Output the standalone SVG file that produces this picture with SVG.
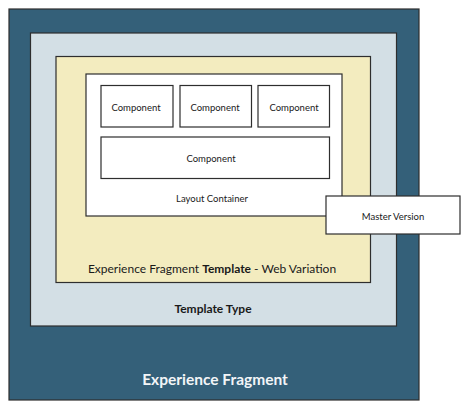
<svg xmlns="http://www.w3.org/2000/svg" width="474" height="413" viewBox="0 0 474 413">
<style>
.box{stroke:#2e2e2e;stroke-width:1.2}
.t{font-family:Lato,"Open Sans","Liberation Sans",sans-serif;fill:#1a1a1a;text-anchor:middle;dominant-baseline:central}
.s{font-size:9.5px}
</style>
<rect width="474" height="413" fill="#ffffff"/>
<g id="experience-fragment">
<rect class="box" x="9" y="9" width="410" height="391" fill="#346079"/>
<text class="t" x="215" y="379" font-size="15.5" font-weight="bold" style="fill:#f2f5f7">Experience Fragment</text>
</g>
<g id="template-type">
<rect class="box" x="30.5" y="33" width="366" height="293" fill="#d3dfe5"/>
<text class="t" x="213" y="308" font-size="12" font-weight="bold">Template Type</text>
</g>
<g id="xf-template">
<rect class="box" x="56" y="56.5" width="314.5" height="226" fill="#f3ecbf"/>
<text class="t" x="212" y="268" font-size="12">Experience Fragment <tspan font-weight="bold">Template</tspan> - Web Variation</text>
</g>
<g id="layout-container">
<rect class="box" x="86" y="74" width="256" height="142" fill="#ffffff"/>
<text class="t s" x="212" y="198">Layout Container</text>
</g>
<g id="component-1">
<rect class="box" x="101" y="85.5" width="72" height="41.5" fill="#ffffff"/>
<text class="t s" x="136" y="107">Component</text>
</g>
<g id="component-2">
<rect class="box" x="180" y="85.5" width="71.5" height="41.5" fill="#ffffff"/>
<text class="t s" x="215" y="107">Component</text>
</g>
<g id="component-3">
<rect class="box" x="258" y="85.5" width="71.5" height="41.5" fill="#ffffff"/>
<text class="t s" x="294" y="107">Component</text>
</g>
<g id="component-4">
<rect class="box" x="101" y="137" width="228.5" height="41.5" fill="#ffffff"/>
<text class="t s" x="211" y="158">Component</text>
</g>
<g id="master-version">
<rect class="box" x="326" y="196" width="134" height="38" fill="#ffffff"/>
<text class="t s" x="393" y="216">Master Version</text>
</g>
<g id="connectors"></g>
</svg>
